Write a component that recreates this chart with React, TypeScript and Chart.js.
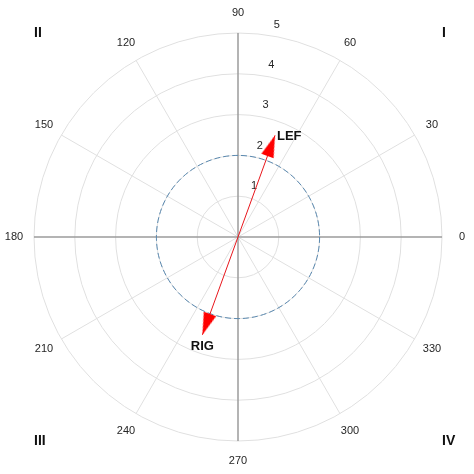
import { useEffect, useRef } from "react";
import { Chart, registerables } from "chart.js";
import type { Plugin } from "chart.js";

Chart.register(...registerables);

const radialTicks = [1, 2, 3, 4, 5];
const angleTicks = [0, 30, 60, 90, 120, 150, 180, 210, 240, 270, 300, 330];
const quadrantLabels = ["I", "II", "III", "IV"];
const referenceRadius = 2;
const vectorNames = ["LEF", "RIG"];
const vectorAngles = [70, 250];
const vectorLengths = [2.65, 2.55];

const R_MAX = 5;
const TICK_LABEL_ANGLE = 82;
const FONT = "'Liberation Sans', Arial, sans-serif";
const deg = (a: number) => (a * Math.PI) / 180;

function makeArrowHead() {
	// tip sits at the image centre so the point position is the arrow tip
	const c = document.createElement("canvas");
	c.width = 13;
	c.height = 44;
	const g = c.getContext("2d");
	if (g) {
		g.fillStyle = "#ff0000";
		g.beginPath();
		g.moveTo(6.5, 22);
		g.lineTo(13, 44);
		g.lineTo(0, 44);
		g.closePath();
		g.fill();
	}
	return c;
}

const polarGrid: Plugin<"scatter"> = {
	id: "polarGrid",
	beforeDatasetsDraw(chart) {
		const { ctx } = chart;
		const x = chart.scales.x;
		const y = chart.scales.y;
		const cx = x.getPixelForValue(0);
		const cy = y.getPixelForValue(0);
		const unit = x.getPixelForValue(1) - cx;
		const outer = R_MAX * unit;

		ctx.save();

		// rings
		ctx.strokeStyle = "#e0e0e0";
		ctx.lineWidth = 1;
		radialTicks.forEach((r) => {
			ctx.beginPath();
			ctx.arc(cx, cy, r * unit, 0, Math.PI * 2);
			ctx.stroke();
		});

		// spokes
		angleTicks
			.filter((a) => a % 90 !== 0)
			.forEach((a) => {
				ctx.beginPath();
				ctx.moveTo(cx, cy);
				ctx.lineTo(cx + outer * Math.cos(deg(a)), cy - outer * Math.sin(deg(a)));
				ctx.stroke();
			});

		// main axes
		ctx.strokeStyle = "#9b9b9b";
		ctx.lineWidth = 1.5;
		angleTicks
			.filter((a) => a % 90 === 0)
			.forEach((a) => {
				ctx.beginPath();
				ctx.moveTo(cx, cy);
				ctx.lineTo(cx + outer * Math.cos(deg(a)), cy - outer * Math.sin(deg(a)));
				ctx.stroke();
			});

		// reference circle
		ctx.strokeStyle = "#5a89b0";
		ctx.lineWidth = 1;
		ctx.setLineDash([6, 3]);
		ctx.beginPath();
		ctx.arc(cx, cy, referenceRadius * unit, 0, Math.PI * 2);
		ctx.stroke();
		ctx.setLineDash([]);

		// angle labels
		ctx.fillStyle = "#262626";
		ctx.font = `11px ${FONT}`;
		ctx.textAlign = "center";
		ctx.textBaseline = "middle";
		angleTicks.forEach((a) => {
			const d = outer + 20;
			ctx.fillText(String(a), cx + d * Math.cos(deg(a)), cy - d * Math.sin(deg(a)));
		});

		// radial tick labels, nudged off the 82 degree line
		radialTicks.forEach((r) => {
			const d = r * unit;
			ctx.fillText(
				String(r),
				cx + d * Math.cos(deg(TICK_LABEL_ANGLE)) + 10.5,
				cy - d * Math.sin(deg(TICK_LABEL_ANGLE)) - 10.5,
			);
		});

		// quadrant labels
		ctx.fillStyle = "#111";
		ctx.font = `bold 14px ${FONT}`;
		ctx.textAlign = "left";
		const corners = [
			[cx + outer, cy - outer],
			[cx - outer, cy - outer],
			[cx - outer, cy + outer],
			[cx + outer, cy + outer],
		];
		quadrantLabels.forEach((q, i) => {
			ctx.fillText(q, corners[i][0], corners[i][1]);
		});

		ctx.restore();
	},
	afterDatasetsDraw(chart) {
		const { ctx } = chart;
		const x = chart.scales.x;
		const y = chart.scales.y;
		ctx.save();
		ctx.fillStyle = "#111";
		ctx.font = `bold 13px ${FONT}`;
		ctx.textBaseline = "middle";
		vectorNames.forEach((name, i) => {
			const t = deg(vectorAngles[i]);
			const px = x.getPixelForValue(vectorLengths[i] * Math.cos(t));
			const py = y.getPixelForValue(vectorLengths[i] * Math.sin(t));
			if (Math.sin(t) >= 0) {
				ctx.textAlign = "left";
				ctx.fillText(name, px + 2, py + 1);
			} else {
				ctx.textAlign = "center";
				ctx.fillText(name, px, py + 12);
			}
		});
		ctx.restore();
	},
};

export default function App() {
	const ref = useRef<HTMLCanvasElement>(null);

	useEffect(() => {
		const canvas = ref.current;
		if (!canvas) {
			return;
		}
		const head = makeArrowHead();

		const chart = new Chart(canvas, {
			type: "scatter",
			data: {
				datasets: vectorNames.map((name, i) => {
					const t = deg(vectorAngles[i]);
					return {
						label: name,
						data: [
							{ x: 0, y: 0 },
							{ x: vectorLengths[i] * Math.cos(t), y: vectorLengths[i] * Math.sin(t) },
						],
						showLine: true,
						borderColor: "#e8161c",
						borderWidth: 1,
						pointRadius: [0, 6],
						pointHoverRadius: [0, 6],
						pointStyle: head,
						rotation: 90 - vectorAngles[i],
					};
				}),
			},
			options: {
				responsive: false,
				animation: false,
				events: [],
				layout: {
					padding: { left: 34, right: 32, top: 33, bottom: 33 },
				},
				plugins: {
					legend: { display: false },
					tooltip: { enabled: false },
				},
				scales: {
					x: { type: "linear", min: -R_MAX, max: R_MAX, display: false },
					y: { type: "linear", min: -R_MAX, max: R_MAX, display: false },
				},
			},
			plugins: [polarGrid],
		});

		return () => {
			chart.destroy();
		};
	}, []);

	return (
		<div style={{ position: "absolute", left: 0, top: 0, width: 474, height: 474, background: "#fff" }}>
			<canvas ref={ref} width={474} height={474} />
		</div>
	);
}
